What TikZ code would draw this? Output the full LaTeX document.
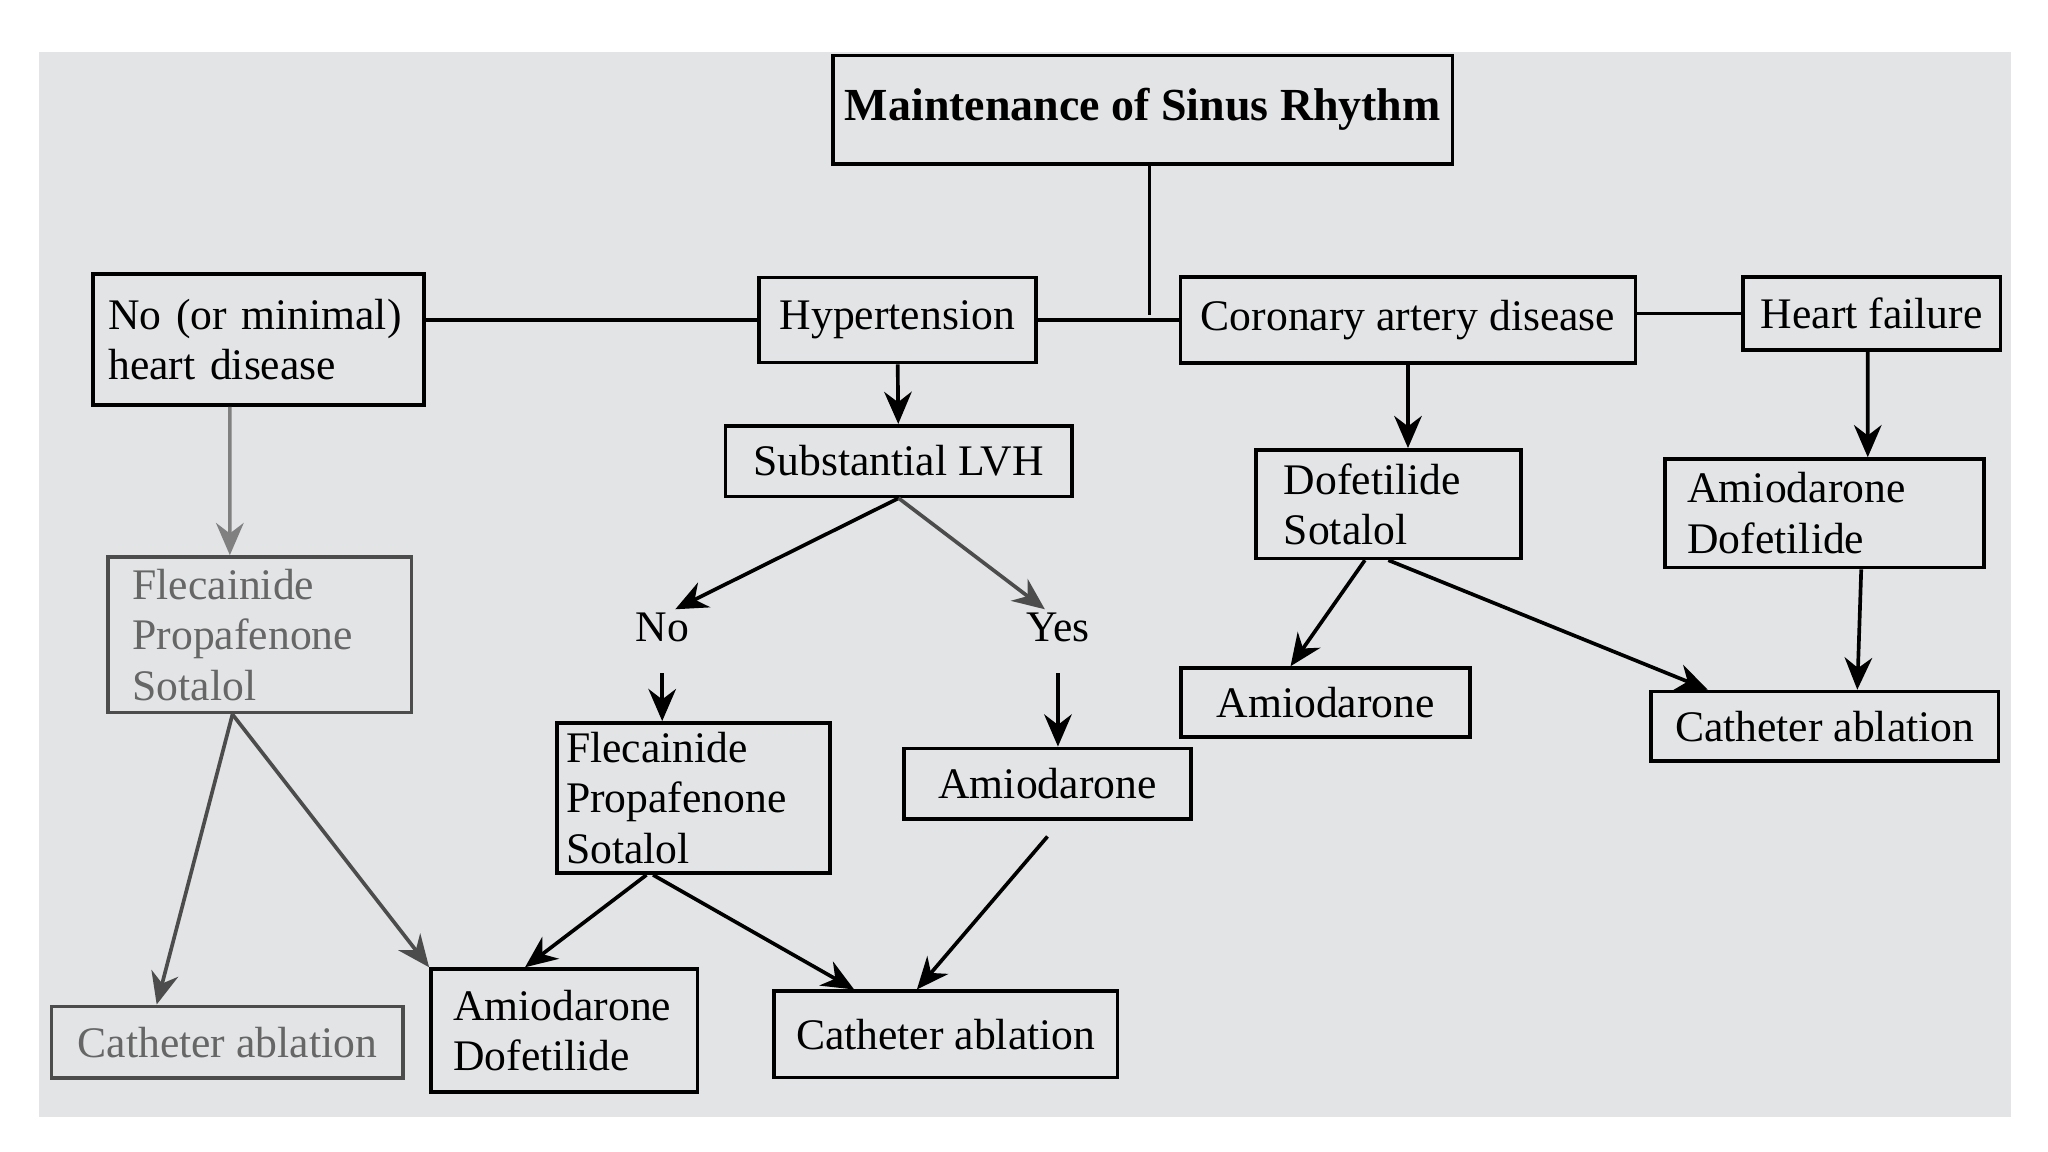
\documentclass[tikz,border=0pt]{standalone}
\usepackage{fontspec}
\setmainfont{Liberation Serif}
\usetikzlibrary{arrows.meta}
\definecolor{paper}{RGB}{226,228,230}
\tikzset{
	box/.style={draw,thick,fill=paper,inner sep=2pt,font=\fontsize{9.5}{11}\selectfont},
	faded/.style={draw=black!70,text=black!60},
	link/.style={thick},
	arr/.style={thick,-{Stealth[length=7pt,width=6pt]}}
}
\begin{document}
\begin{tikzpicture}[x=0.01cm,y=-0.01cm]
	\useasboundingbox (0,0) rectangle (1568,882);
	\fill[paper] (30,40) rectangle (1540,855);
	
	\node[box,minimum width=4.74cm,minimum height=.83cm,font=\fontsize{10}{12}\selectfont\bfseries] (title) at (875,84) {Maintenance of Sinus Rhythm};
	\node[box,minimum width=2.53cm,minimum height=1cm,text width=2.3cm,align=left] (nodis) at (198,260) {No (or minimal)\\heart disease};
	\node[box,minimum width=2.12cm,minimum height=.65cm] (hyper) at (687,245) {Hypertension};
	\node[box,minimum width=3.48cm,minimum height=.66cm] (cad) at (1078,245) {Coronary artery disease};
	\node[box,minimum width=1.97cm,minimum height=.56cm] (hf) at (1433,240) {Heart failure};
	\node[box,minimum width=2.65cm,minimum height=.54cm] (lvh) at (688,353) {Substantial LVH};
	\node[box,faded,minimum width=2.32cm,minimum height=1.19cm,text width=1.95cm,align=left] (fps1) at (199,486) {Flecainide\\Propafenone\\Sotalol};
	\node[font=\fontsize{9.5}{11}\selectfont] (no) at (507,480) {No};
	\node[font=\fontsize{9.5}{11}\selectfont] (yes) at (810,480) {Yes};
	\node[box,minimum width=2.08cm,minimum height=1.1cm,text width=1.95cm,align=left] (fps2) at (531,611) {Flecainide\\Propafenone\\Sotalol};
	\node[box,minimum width=2.2cm,minimum height=.54cm] (amio1) at (802,600) {Amiodarone};
	\node[box,minimum width=2.03cm,minimum height=.83cm,text width=1.6cm,align=left] (dofsot) at (1063,386) {Dofetilide\\Sotalol};
	\node[box,minimum width=2.44cm,minimum height=.83cm,text width=2.1cm,align=left] (amidof1) at (1397,393) {Amiodarone\\Dofetilide};
	\node[box,minimum width=2.21cm,minimum height=.53cm] (amio2) at (1015,538) {Amiodarone};
	\node[box,minimum width=2.66cm,minimum height=.53cm] (cath1) at (1397,556) {Catheter ablation};
	\node[box,faded,minimum width=2.69cm,minimum height=.55cm] (cath2) at (174,798) {Catheter ablation};
	\node[box,minimum width=2.04cm,minimum height=.94cm,text width=1.7cm,align=left] (amidof2) at (432,789) {Amiodarone\\Dofetilide};
	\node[box,minimum width=2.63cm,minimum height=.66cm] (cath3) at (724,792) {Catheter ablation};
	
	\coordinate (join) at (880,241);
	\draw[link] (join |- title.south) -- (join);
	\draw[link] (nodis.east |- hyper) -- (hyper);
	\draw[link] (hyper) -- (cad);
	\draw[link] (cad.east |- hf) -- (hf);
	
	\draw[arr] (hyper) -- (lvh);
	\draw[arr] (lvh.south) -- ([xshift=.1cm,yshift=-.1cm]no.north);
	\draw[arr,black!70] (lvh.south) -- ([xshift=-.1cm,yshift=-.1cm]yes.north);
	\draw[arr] ([yshift=-.12cm]no.south) -- (fps2.north -| no);
	\draw[arr] ([yshift=-.12cm]yes.south) -- (amio1.north -| yes);
	\draw[arr] (cad) -- (dofsot.north -| cad);
	\draw[arr] ([xshift=-.18cm]dofsot.south) -- ([xshift=.85cm]amio2.north west);
	\draw[arr] (dofsot.south) -- ([xshift=.45cm]cath1.north west);
	\draw[arr] ([xshift=-.03cm]hf.south) -- ([xshift=.33cm]amidof1.north);
	\draw[arr] ([xshift=.28cm]amidof1.south) -- ([xshift=.25cm]cath1.north);
	\draw[arr,black!50] ([xshift=-.22cm]nodis.south) -- ([xshift=-.23cm]fps1.north);
	\draw[arr,black!70] ([xshift=-.21cm]fps1.south) -- ([xshift=-.54cm]cath2.north);
	\draw[arr,black!70] ([xshift=-.21cm]fps1.south) -- (amidof2.north west);
	\draw[arr] ([xshift=-.36cm]fps2.south) -- ([xshift=-.3cm]amidof2.north);
	\draw[arr] ([xshift=-.31cm]fps2.south) -- ([xshift=-.7cm]cath3.north);
	\draw[arr] ([yshift=-.12cm]amio1.south) -- ([xshift=-.22cm]cath3.north);
\end{tikzpicture}
\end{document}
